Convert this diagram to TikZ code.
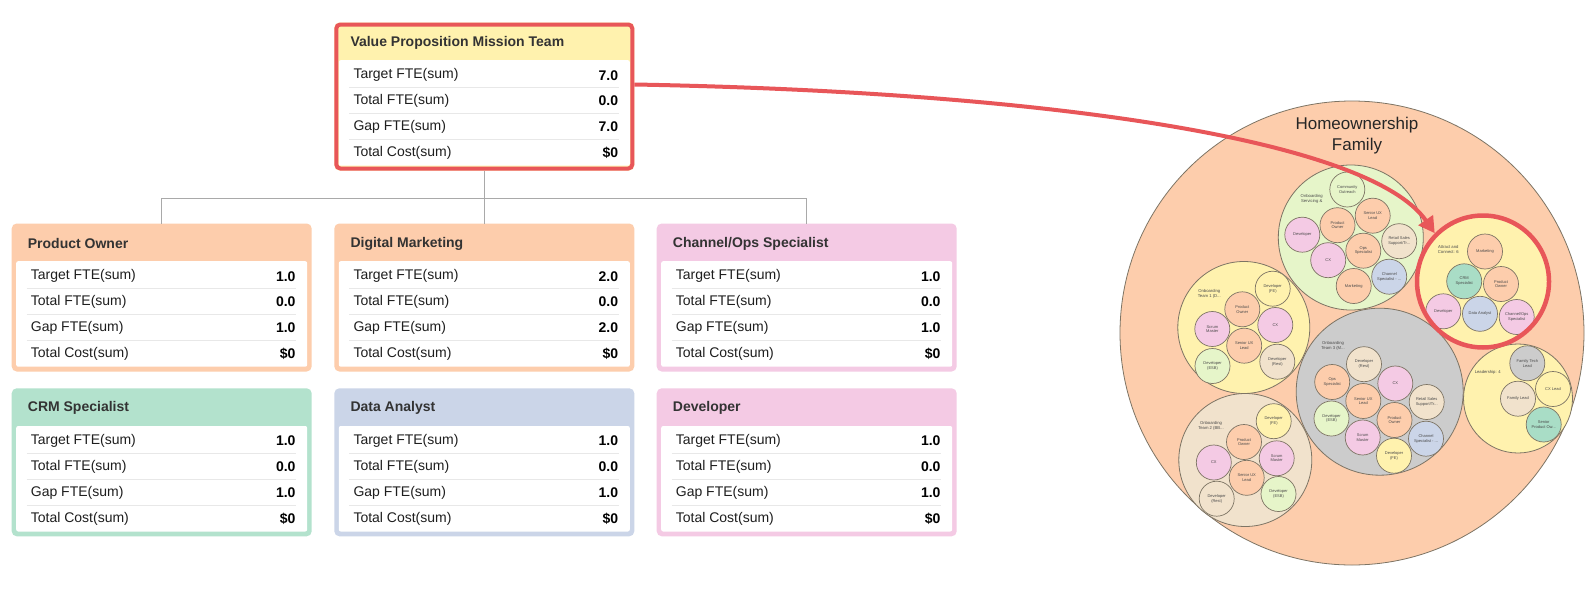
\documentclass[tikz,border=0pt]{standalone}
\usepackage{fontspec}
\setmainfont{Liberation Sans}
\usetikzlibrary{arrows.meta}
\definecolor{pyellow}{HTML}{FFF2AE}
\definecolor{porange}{HTML}{FDCDAC}
\definecolor{ppink}{HTML}{F4CAE4}
\definecolor{pgreen}{HTML}{B3E2CD}
\definecolor{pteal}{HTML}{A9DDC6}
\definecolor{pblue}{HTML}{CBD5E8}
\definecolor{plime}{HTML}{E6F5C9}
\definecolor{pbeige}{HTML}{F1E2CC}
\definecolor{pgray}{HTML}{CCCCCC}
\definecolor{hired}{HTML}{E85659}
\definecolor{sepgray}{HTML}{E8E8E8}
\definecolor{linkgray}{HTML}{A9A9A9}
\definecolor{cstroke}{HTML}{7D7464}
\definecolor{ctext}{HTML}{4A4A4A}
\definecolor{headtext}{HTML}{333333}
\definecolor{rowtext}{HTML}{1E1E1E}

\tikzset{
  cardbox/.style={rectangle, rounded corners=5, minimum width=300, minimum height=148, anchor=north west, inner sep=0, outer sep=0},
  headfont/.style={font=\fontsize{14}{16}\selectfont\bfseries, text=headtext, inner sep=0},
  rowfont/.style={font=\fontsize{14}{16}\selectfont, text=rowtext, inner sep=0},
  valfont/.style={font=\fontsize{14}{16}\selectfont\bfseries, text=black, inner sep=0},
  sepline/.style={draw=sepgray, line width=1},
  link/.style={draw=linkgray, line width=1.3},
  gc/.style={circle, draw=cstroke, line width=0.8, inner sep=0},
  ic/.style={circle, draw=cstroke, line width=0.7, inner sep=0, minimum size=35, align=center, text=ctext, font=\fontsize{4}{4.6}\selectfont},
  glabel/.style={align=center, text=ctext, inner sep=0, font=\fontsize{4.2}{5}\selectfont},
}

\newcommand{\card}[9]{%
  \node[cardbox, fill=#4] (#1) at (#2,#3) {};
  \fill[white, rounded corners=2] ([shift={(4.5,37.7)}]#1.north west) rectangle ([shift={(-4.5,-4.8)}]#1.south east);
  \node[headfont, anchor=west] (#1-t) at ([shift={(16,20)}]#1.north west) {#5};
  \node[rowfont, anchor=west] (#1-a) at ([shift={(19,52.7)}]#1.north west) {Target FTE(sum)};
  \node[valfont, anchor=east] (#1-av) at ([shift={(284,52.7)}]#1.north west) {#6};
  \node[rowfont, anchor=west] (#1-b) at ([shift={(19,78.5)}]#1.north west) {Total FTE(sum)};
  \node[valfont, anchor=east] (#1-bv) at ([shift={(284,78.5)}]#1.north west) {#7};
  \node[rowfont, anchor=west] (#1-c) at ([shift={(19,104.4)}]#1.north west) {Gap FTE(sum)};
  \node[valfont, anchor=east] (#1-cv) at ([shift={(284,104.4)}]#1.north west) {#8};
  \node[rowfont, anchor=west] (#1-d) at ([shift={(19,130.3)}]#1.north west) {Total Cost(sum)};
  \node[valfont, anchor=east] (#1-dv) at ([shift={(284,130.3)}]#1.north west) {#9};
  \draw[sepline] ([shift={(15,64.9)}]#1.north west) -- ([shift={(284.5,64.9)}]#1.north west);
  \draw[sepline] ([shift={(15,90.8)}]#1.north west) -- ([shift={(284.5,90.8)}]#1.north west);
  \draw[sepline] ([shift={(15,116.8)}]#1.north west) -- ([shift={(284.5,116.8)}]#1.north west);
}
\newcommand{\ic}[5]{\node[ic, fill=#4] (#1) at (#2,#3) {#5};}

\begin{document}
\begin{tikzpicture}[x=1pt, y=-1pt]
\fill[white] (0,0) rectangle (1593,613);
\useasboundingbox (0,0) rectangle (1593,613);

% ---------- cards ----------
\card{top}{334.3}{22.5}{pyellow}{Value Proposition Mission Team}{7.0}{0.0}{7.0}{\$0}
\draw[hired, line width=4, rounded corners=4] ([shift={(2,2)}]top.north west) rectangle ([shift={(-2,-2)}]top.south east);

\card{po}{11.7}{223.5}{porange}{Product Owner}{1.0}{0.0}{1.0}{\$0}
\card{dm}{334.3}{223.5}{porange}{Digital Marketing}{2.0}{0.0}{2.0}{\$0}
\card{co}{656.7}{223.5}{ppink}{Channel/Ops Specialist}{1.0}{0.0}{1.0}{\$0}
\card{crm}{11.7}{388.3}{pgreen}{CRM Specialist}{1.0}{0.0}{1.0}{\$0}
\card{da}{334.3}{388.3}{pblue}{Data Analyst}{1.0}{0.0}{1.0}{\$0}
\card{dev}{656.7}{388.3}{ppink}{Developer}{1.0}{0.0}{1.0}{\$0}

% ---------- tree connectors ----------
\coordinate (bus) at (484.3,198.3);
\draw[link] (top.south) -- (top.south |- bus);
\draw[link] (po.north) -- (po.north |- bus) -- (co.north |- bus) -- (co.north);
\draw[link] (dm.north) -- (dm.north |- bus);

% ---------- circle packing ----------
\node[gc, fill=porange, minimum size=464] (fam) at (1352,333) {};
\node[align=center, inner sep=0, text=black!85, font=\fontsize{17}{21}\selectfont] (famt) at (1357,135.5) {Homeownership\\Family};

\node[gc, fill=plime, minimum size=145] (gsv) at (1350.8,237.5) {};
\node[gc, fill=pyellow, minimum size=132] (gac) at (1483,281.5) {};
\node[gc, fill=pyellow, minimum size=132] (gt1) at (1243.8,327.5) {};
\node[gc, fill=pgray, minimum size=167] (gt3) at (1379.7,391.7) {};
\node[gc, fill=pbeige, minimum size=133] (gt2) at (1245.3,460) {};
\node[gc, fill=pyellow, minimum size=109] (gld) at (1518,398.5) {};

% Onboarding Servicing
\node[glabel] (gsvl) at (1311.7,199.3) {Onboarding\\Servicing \&};
\ic{sv1}{1347.3}{189.5}{plime}{Community\\Outreach}
\ic{sv2}{1372.7}{215.7}{porange}{Senior UX\\Lead}
\ic{sv3}{1337.5}{225.2}{porange}{Product\\Owner}
\ic{sv4}{1302.3}{234.7}{ppink}{Developer}
\ic{sv5}{1399.2}{241.2}{pbeige}{Retail Sales\\Support/Tr...}
\ic{sv6}{1363.3}{250.7}{porange}{Ops\\Specialist}
\ic{sv7}{1328.2}{260.2}{ppink}{CX}
\ic{sv8}{1389.2}{276.7}{pblue}{Channel\\Specialist - ...}
\ic{sv9}{1353.7}{286}{porange}{Marketing}

% Attract and Connect
\node[glabel] (gacl) at (1448.3,249) {Attract and\\Connect: 6};
\ic{ac1}{1485}{251.5}{porange}{Marketing}
\ic{ac2}{1464.2}{281.3}{pteal}{CRM\\Specialist}
\ic{ac3}{1501}{284}{porange}{Product\\Owner}
\ic{ac4}{1443.3}{311.3}{ppink}{Developer}
\ic{ac5}{1480}{313.8}{pblue}{Data Analyst}
\ic{ac6}{1516.7}{317}{ppink}{Channel/Ops\\Specialist}

% Team 1
\node[glabel] (gt1l) at (1209.3,293.5) {Onboarding\\Team 1 (D...};
\ic{t1a}{1272.7}{288.7}{pyellow}{Developer\\(FE)}
\ic{t1b}{1242.3}{309.3}{porange}{Product\\Owner}
\ic{t1c}{1212.3}{329}{ppink}{Scrum\\Master}
\ic{t1d}{1275.3}{325}{ppink}{CX}
\ic{t1e}{1244.2}{345.7}{porange}{Senior UX\\Lead}
\ic{t1f}{1212.5}{366}{plime}{Developer\\(ESB)}
\ic{t1g}{1277.3}{361.7}{pbeige}{Developer\\(Rest)}

% Team 3
\node[glabel] (gt3l) at (1333,346) {Onboarding\\Team 3 (M...};
\ic{t3a}{1364}{364.2}{pbeige}{Developer\\(Rest)}
\ic{t3b}{1332.2}{382}{porange}{Ops\\Specialist}
\ic{t3c}{1395.3}{383.5}{ppink}{CX}
\ic{t3d}{1363.3}{401}{porange}{Senior UX\\Lead}
\ic{t3e}{1426.7}{402}{pbeige}{Retail Sales\\Support/Tr...}
\ic{t3f}{1331.5}{418.5}{plime}{Developer\\(ESB)}
\ic{t3g}{1394.5}{420}{porange}{Product\\Owner}
\ic{t3h}{1362.7}{437.5}{ppink}{Scrum\\Master}
\ic{t3i}{1426}{438.7}{pblue}{Channel\\Specialist - ...}
\ic{t3j}{1394}{455.7}{pyellow}{Developer\\(FE)}

% Team 2
\node[glabel] (gt2l) at (1211,426.2) {Onboarding\\Team 2 (BB...};
\ic{t2a}{1273.7}{421.2}{pyellow}{Developer\\(FE)}
\ic{t2b}{1244}{442}{porange}{Product\\Owner}
\ic{t2c}{1213.8}{462.5}{ppink}{CX}
\ic{t2d}{1276.7}{458.3}{ppink}{Scrum\\Master}
\ic{t2e}{1246.7}{477.8}{porange}{Senior UX\\Lead}
\ic{t2f}{1216.7}{498.7}{pbeige}{Developer\\(Rest)}
\ic{t2g}{1278.5}{494}{plime}{Developer\\(ESB)}

% Leadership
\node[glabel] (gldl) at (1487.7,372.7) {Leadership: 4};
\ic{ld1}{1527.3}{363.3}{pgray}{Family Tech\\Lead}
\ic{ld2}{1553}{389}{pyellow}{CX Lead}
\ic{ld3}{1518}{398.7}{pbeige}{Family Lead}
\ic{ld4}{1543.7}{424.5}{pteal}{Senior\\Product Ow...}

% highlight ring and arrow
\node[circle, draw=hired, line width=4.5, minimum size=132, inner sep=0] (ring) at (1483,281.5) {};
\coordinate (astart) at ([shift={(0,62)}]top.north east);
\draw[hired, line width=4, -{Triangle[length=16pt,width=17pt]}] (astart) .. controls (1050,92) and (1370,140) .. (ring.135);
\end{tikzpicture}
\end{document}
